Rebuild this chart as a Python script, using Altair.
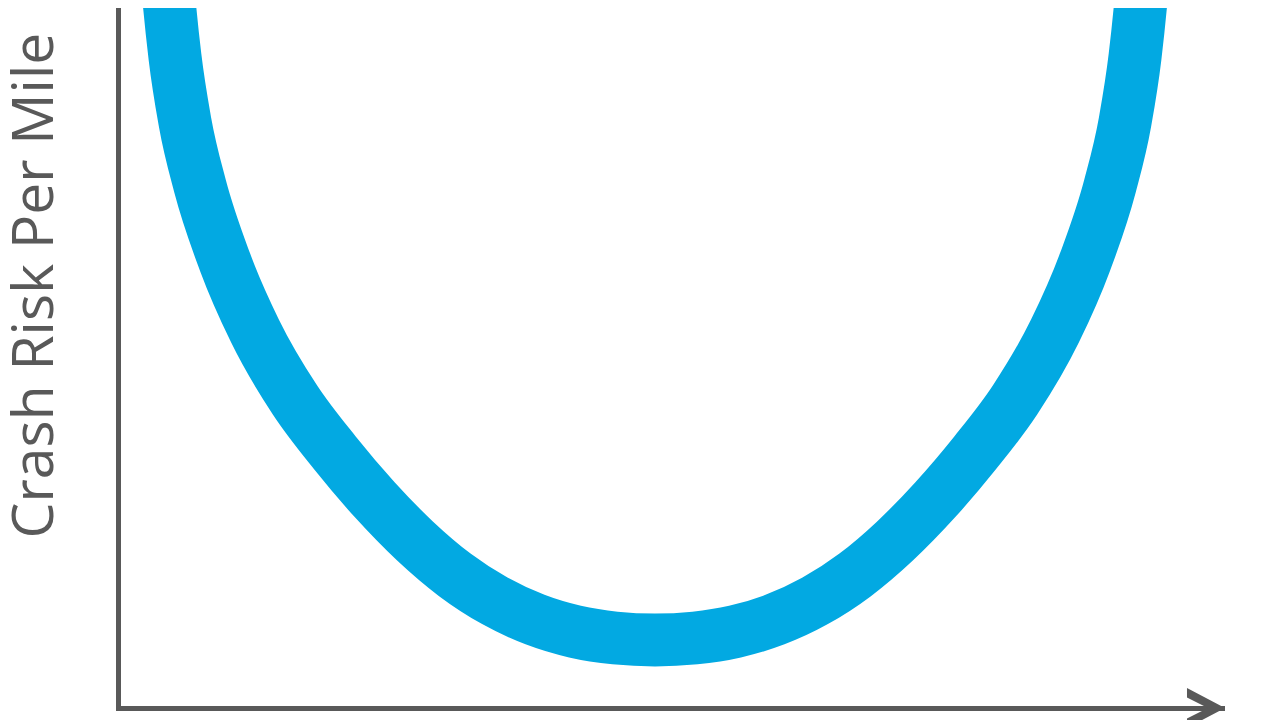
import altair as alt
import pandas as pd

# Curve (arbitrary units: speed 0-100, risk 0-100)
speed = [4.257, 4.620, 5.163, 6.069, 7.428, 9.692, 12.409, 16.033, 19.656, 23.279,
         26.902, 30.525, 34.149, 37.772, 41.395, 45.018, 48.641,
         52.264, 55.888, 59.511, 63.134, 66.757, 70.380, 74.004, 77.627, 81.250,
         84.873, 87.591, 89.855, 91.214, 92.120, 92.663, 93.025]
risk = [108.0, 101.14, 93.0, 83.71, 74.57, 63.71, 53.86, 44.0, 36.43, 29.71,
        23.86, 19.0, 15.29, 12.63, 10.91, 10.0, 9.714,
        10.0, 10.91, 12.63, 15.29, 19.0, 23.86, 29.71, 36.43, 44.0,
        53.86, 63.71, 74.57, 83.71, 93.0, 101.14, 108.0]

arrow_speed = [98.55]
arrow_risk = [0.0]

curve_df = pd.DataFrame({"speed": speed, "risk": risk})
arrow_df = pd.DataFrame({"speed": arrow_speed, "risk": arrow_risk})

AXIS_GRAY = "#595959"

xscale = alt.Scale(domain=[0, 100], nice=False, zero=False)
yscale = alt.Scale(domain=[0, 100], nice=False, zero=False)

x_axis = alt.Axis(domain=True, domainWidth=5, domainColor=AXIS_GRAY, domainCap="square",
                  ticks=False, labels=False, grid=False)
y_axis = alt.Axis(domain=True, domainWidth=5, domainColor=AXIS_GRAY, domainCap="square",
                  ticks=False, labels=False, grid=False,
                  titleFont="Open Sans", titleFontSize=57, titleFontWeight="normal",
                  titleColor=AXIS_GRAY, titleAngle=270, titleAlign="center",
                  titleBaseline="alphabetic", titleX=-66, titleY=277)

curve = alt.Chart(curve_df).mark_line(
    color="#02A9E2", strokeWidth=53, interpolate="monotone", clip=True,
    strokeJoin="round"
).encode(
    x=alt.X("speed:Q", scale=xscale, axis=x_axis, title=None),
    y=alt.Y("risk:Q", scale=yscale, axis=y_axis, title="Crash Risk Per Mile"),
)

arrow = alt.Chart(arrow_df).mark_point(
    shape="M -1 -1.05 L 1 0 L -1 1.05 L -1 0.55 L 0.1 0 L -1 -0.55 Z",
    size=1444, filled=True, color=AXIS_GRAY, opacity=1, strokeWidth=0
).encode(
    x=alt.X("speed:Q", scale=xscale),
    y=alt.Y("risk:Q", scale=yscale),
)

chart = alt.layer(curve, arrow).properties(
    width=1104, height=700,
    autosize=alt.AutoSizeParams(type="none"),
    padding={"left": 110, "top": 0, "right": 50, "bottom": 12},
    background="white",
).configure_view(stroke=None)

chart.save("out.html", embed_options={"renderer": "svg", "actions": False})
